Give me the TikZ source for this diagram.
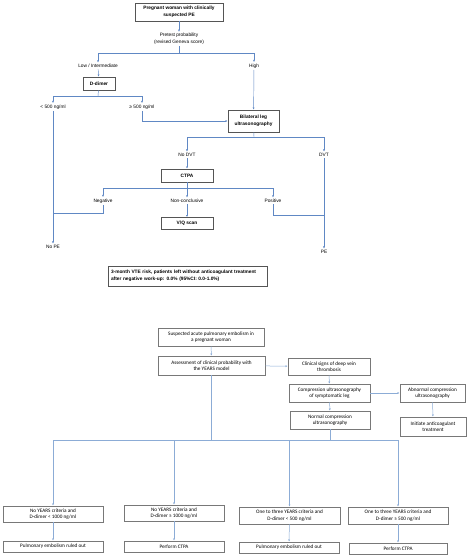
\documentclass[tikz,border=0pt]{standalone}
\usepackage{xcolor}
\usepackage{fontspec}
\setmainfont{Liberation Sans}
\newfontfamily\calfont{Carlito}
\usepackage{tikz}
\usetikzlibrary{arrows.meta}
\usetikzlibrary{positioning}
\definecolor{lineblue}{RGB}{96,136,196}
\definecolor{lightblue}{RGB}{140,172,214}
\definecolor{boxgray}{RGB}{85,85,85}
\definecolor{botgray}{RGB}{120,120,120}
\tikzset{>={Latex[length=2.2pt,width=2pt]}}
\tikzstyle{topbox} = [rectangle, draw = boxgray, line width = 0.6pt, inner sep = 0, align = center, font = \fontsize{4.8}{6.5}\selectfont\bfseries]
\tikzstyle{toplab} = [draw = none, inner sep = 1.5pt, align = center, font = \fontsize{4.8}{6.5}\selectfont]
\tikzstyle{botbox} = [rectangle, draw = botgray, line width = 0.6pt, inner sep = 0, align = center, font = \calfont\fontsize{5.2}{6.5}\selectfont]
\tikzstyle{cn} = [draw = lineblue, line width = 0.45pt]
\tikzstyle{cnb} = [draw = lightblue, line width = 0.5pt]

\begin{document}
\begin{tikzpicture}[x=1pt, y=-1pt]
\useasboundingbox (0,0) rectangle (474,559);
% upper chart
\node [topbox, minimum width = 88, minimum height = 18] (preg) at (179,12) {Pregnant woman with clinically\\suspected PE};
\node [toplab] (pretest) at (179,39) {Pretest probability\\(revised Geneva score)};
\node [toplab] (low) at (98,66) {Low / Intermediate};
\node [toplab] (high) at (254,66) {High};
\node [topbox, minimum width = 32, minimum height = 13] (ddim) at (99,83.5) {D-dimer};
\node [toplab] (lt500) at (53,107) {< 500 ng/ml};
\node [toplab] (ge500) at (142,107) {≥ 500 ng/ml};
\node [topbox, minimum width = 51, minimum height = 22] (bil) at (253.5,121) {Bilateral leg\\ultrasonography};
\node [toplab] (nodvt) at (187,155) {No DVT};
\node [toplab] (dvt) at (324,155) {DVT};
\node [topbox, minimum width = 52, minimum height = 13] (ctpa) at (187,175.5) {CTPA};
\node [toplab] (neg) at (103,201) {Negative};
\node [toplab] (noncon) at (187,201) {Non-conclusive};
\node [toplab] (pos) at (273,201) {Positive};
\node [topbox, minimum width = 52, minimum height = 12] (vq) at (187,223.5) {V/Q scan};
\node [toplab] (nope) at (53,247) {No PE};
\node [toplab] (pe) at (324,252) {PE};
\node [topbox, text width = 153, inner xsep = 3pt, minimum height = 20, align = left] (risk) at (187.5,276) {3-month VTE risk, patients left without anticoagulant treatment\\after negative work-up: 0.0\% (95\%CI: 0.0-1.0\%)};

\coordinate (b1) at (179,53);
\coordinate (b2) at (98,96);
\coordinate (b3) at (254,137);
\coordinate (b4) at (187,188);
\coordinate (j1) at (53,213);
\coordinate (j2) at (324,215);

\draw [cn, ->] (preg) to (pretest);
\draw [cn] (pretest) to (b1);
\draw [cn, ->] (b1) -| (low);
\draw [cn, ->] (b1) -| (high);
\draw [cn, ->] (low) to (ddim);
\draw [cn] (ddim) to (b2);
\draw [cn, ->] (b2) -| (lt500);
\draw [cn, ->] (b2) -| (ge500);
\draw [cn, ->] (ge500.south) |- (bil.west);
\draw [cn, ->] (high) to (bil);
\draw [cn] (bil) to (b3);
\draw [cn, ->] (b3) -| (nodvt);
\draw [cn, ->] (b3) -| (dvt);
\draw [cn, ->] (nodvt) to (ctpa);
\draw [cn] (ctpa) to (b4);
\draw [cn, ->] (b4) -| (neg);
\draw [cn, ->] (b4) -| (pos);
\draw [cn, ->] (b4) to (noncon);
\draw [cn, ->] (noncon) to (vq);
\draw [cn, ->] (lt500) to (nope);
\draw [cn] (neg.south) |- (j1);
\draw [cn, ->] (dvt) to (pe);
\draw [cn] (pos.south) |- (j2);

% lower chart
\node [botbox, minimum width = 106, minimum height = 18] (susp) at (211,337) {Suspected acute pulmonary embolism in\\a pregnant woman};
\node [botbox, minimum width = 107, minimum height = 19] (assess) at (211.5,365.5) {Assessment of clinical probability with\\the YEARS model};
\node [botbox, minimum width = 82, minimum height = 17] (clin) at (329,366.5) {Clinical signs of deep vein\\thrombosis};
\node [botbox, minimum width = 81, minimum height = 18] (comp) at (329.5,393) {Compression ultrasonography\\of symptomatic leg};
\node [botbox, minimum width = 65, minimum height = 18] (abn) at (432.5,393) {Abnormal compression\\ultrasonography};
\node [botbox, minimum width = 80, minimum height = 18] (norm) at (330,420) {Normal compression\\ultrasonography};
\node [botbox, minimum width = 66, minimum height = 19] (init) at (433,426.5) {Initiate anticoagulant\\treatment};
\node [botbox, minimum width = 100, minimum height = 16] (ya) at (53,514) {No YEARS criteria and\\D-dimer < 1000 ng/ml};
\node [botbox, minimum width = 100, minimum height = 16] (yb) at (174,513) {No YEARS criteria and\\D-dimer ≥ 1000 ng/ml};
\node [botbox, minimum width = 101, minimum height = 17] (yc) at (289.5,515.5) {One to three YEARS criteria and\\D-dimer < 500 ng/ml};
\node [botbox, minimum width = 100, minimum height = 17] (yd) at (398,515.5) {One to three YEARS criteria and\\D-dimer ≥ 500 ng/ml};
\node [botbox, minimum width = 100, minimum height = 11] (ra) at (53,546.5) {Pulmonary embolism ruled out};
\node [botbox, minimum width = 100, minimum height = 11] (rb) at (174,546.5) {Perform CTPA};
\node [botbox, minimum width = 100, minimum height = 11] (rc) at (289,547.5) {Pulmonary embolism ruled out};
\node [botbox, minimum width = 98, minimum height = 11] (rd) at (398,548.5) {Perform CTPA};

\coordinate (bus) at (211.5,440);
\coordinate (busl) at (53,440);
\coordinate (busr) at (398,440);

\draw [cnb, ->] (susp) to (assess);
\draw [cnb, ->] (assess) to (clin);
\draw [cnb, ->] (clin) to (comp);
\draw [cnb, ->] (comp) to (abn);
\draw [cnb, ->] (abn) to (init);
\draw [cnb, ->] (comp) to (norm);
\draw [cnb] (assess) to (bus);
\draw [cnb] (norm.south) to (norm.south |- bus);
\draw [cnb] (busl) to (busr);
\draw [cnb, ->] (busl) to (ya);
\draw [cnb, ->] (yb.north |- bus) to (yb);
\draw [cnb, ->] (yc.north |- bus) to (yc);
\draw [cnb, ->] (busr) to (yd);
\draw [cnb, ->] (ya) to (ra);
\draw [cnb, ->] (yb) to (rb);
\draw [cnb, ->] (yc) to (rc);
\draw [cnb, ->] (yd) to (rd);
\end{tikzpicture}
\end{document}
